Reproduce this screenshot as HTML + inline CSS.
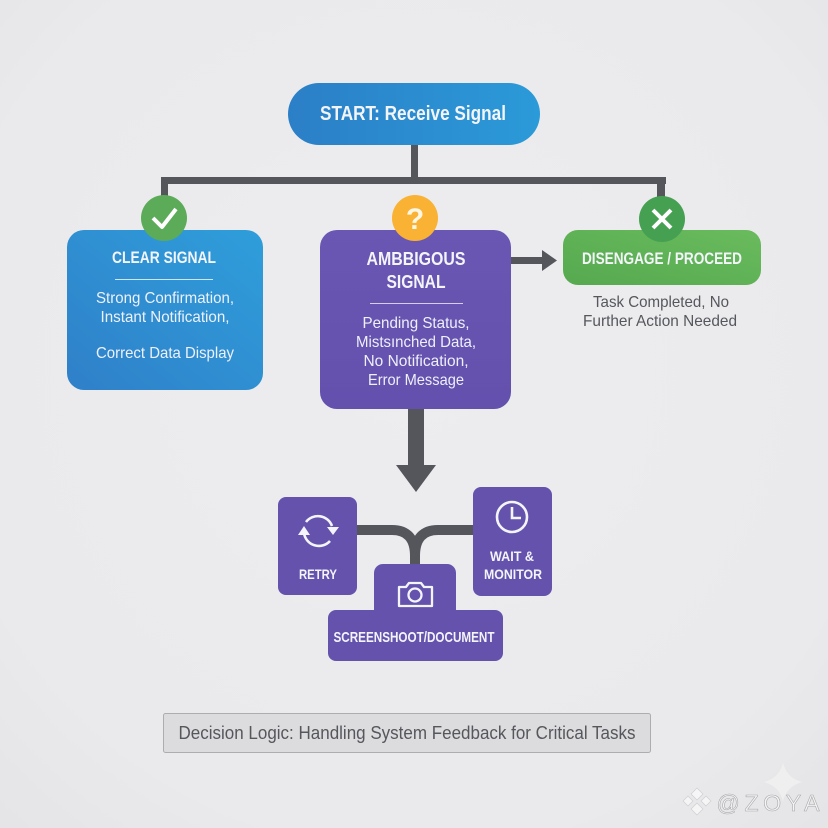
<!DOCTYPE html>
<html><head><meta charset="utf-8"><style>
html,body{margin:0;padding:0;background:#e9e9eb}
svg{display:block}
text{font-family:"Liberation Sans",sans-serif;text-anchor:middle}
.t{fill:#f4f4fb;font-weight:bold}
.b{fill:#eef0fa}
.d{fill:#55575c}
</style></head><body>
<svg width="828" height="828" viewBox="0 0 828 828" xmlns="http://www.w3.org/2000/svg">
<defs>
<radialGradient id="bg" cx="50%" cy="45%" r="80%"><stop offset="0" stop-color="#ededef"/><stop offset="0.7" stop-color="#eaeaec"/><stop offset="1" stop-color="#e3e3e5"/></radialGradient>
<linearGradient id="blue" x1="0" y1="1" x2="1" y2="0"><stop offset="0" stop-color="#2f80c8"/><stop offset="1" stop-color="#2f9edb"/></linearGradient>
<linearGradient id="pill" x1="0" y1="0" x2="1" y2="0"><stop offset="0" stop-color="#2b7fc7"/><stop offset="1" stop-color="#2b9ad8"/></linearGradient>
<linearGradient id="pur" x1="0" y1="0" x2="0" y2="1"><stop offset="0" stop-color="#6957b3"/><stop offset="1" stop-color="#6450ad"/></linearGradient>
<linearGradient id="grn" x1="0" y1="1" x2="1" y2="0"><stop offset="0" stop-color="#57a950"/><stop offset="1" stop-color="#69bb5d"/></linearGradient>
</defs>
<rect width="828" height="828" fill="url(#bg)"/>

<!-- top connectors -->
<g fill="#54565b">
<rect x="411" y="145" width="7" height="36"/>
<rect x="161" y="177" width="505" height="7"/>
<rect x="161" y="177" width="7" height="24"/>
<rect x="657" y="177" width="8" height="24"/>
<rect x="511" y="257" width="33" height="7"/>
<polygon points="542,250 557,260.500 542,271"/>
<rect x="408" y="409" width="16" height="57"/>
<polygon points="396,465 436,465 416,492"/>
</g>

<!-- start -->
<rect x="288" y="83" width="252" height="62" rx="31" fill="url(#pill)"/>
<text x="413" y="120" font-size="20" class="t" textLength="186" lengthAdjust="spacingAndGlyphs">START: Receive Signal</text>

<!-- clear -->
<rect x="67" y="230" width="196" height="160" rx="17" fill="url(#blue)"/>
<text x="164" y="263" font-size="17" class="t" textLength="104" lengthAdjust="spacingAndGlyphs">CLEAR SIGNAL</text>
<rect x="115" y="279" width="98" height="1" fill="#cfe6f6"/>
<g class="b" font-size="16">
<text x="165" y="303" textLength="138" lengthAdjust="spacingAndGlyphs">Strong Confirmation,</text>
<text x="165" y="322" textLength="129" lengthAdjust="spacingAndGlyphs">Instant Notification,</text>
<text x="165" y="358" textLength="138" lengthAdjust="spacingAndGlyphs">Correct Data Display</text>
</g>

<!-- ambiguous -->
<rect x="320" y="230" width="191" height="179" rx="17" fill="url(#pur)"/>
<text x="416" y="265" font-size="18" class="t" textLength="99" lengthAdjust="spacingAndGlyphs">AMBBIGOUS</text>
<text x="416" y="288" font-size="18" class="t" textLength="59" lengthAdjust="spacingAndGlyphs">SIGNAL</text>
<rect x="370" y="303" width="93" height="1" fill="#d5cfee"/>
<g class="b" font-size="16">
<text x="416" y="328" textLength="107" lengthAdjust="spacingAndGlyphs">Pending Status,</text>
<text x="416" y="347" textLength="120" lengthAdjust="spacingAndGlyphs">Mistsınched Data,</text>
<text x="416" y="366" textLength="105" lengthAdjust="spacingAndGlyphs">No Notification,</text>
<text x="416" y="385" textLength="96" lengthAdjust="spacingAndGlyphs">Error Message</text>
</g>

<!-- disengage -->
<rect x="563" y="230" width="198" height="55" rx="15" fill="url(#grn)"/>
<text x="662" y="264" font-size="17" class="t" textLength="160" lengthAdjust="spacingAndGlyphs">DISENGAGE / PROCEED</text>
<g class="d" font-size="16">
<text x="661" y="307" textLength="136" lengthAdjust="spacingAndGlyphs">Task Completed, No</text>
<text x="660" y="326" textLength="154" lengthAdjust="spacingAndGlyphs">Further Action Needed</text>
</g>

<!-- badges -->
<circle cx="164" cy="218" r="23" fill="#5cab58"/>
<path d="M153 218 L162 227 L176 209" fill="none" stroke="#fff" stroke-width="4" stroke-linejoin="round"/>
<circle cx="415" cy="218" r="23" fill="#f9b233"/>
<text x="415" y="229" font-size="30" font-weight="bold" fill="#fdf6e3">?</text>
<circle cx="662" cy="219" r="23" fill="#46a052"/>
<path d="M653 210 L671 228 M671 210 L653 228" fill="none" stroke="#fff" stroke-width="4"/>

<!-- action connectors -->
<path d="M357 530 H392 Q415 530 415 556 V566 M473 530 H438 Q415 530 415 556" fill="none" stroke="#54565b" stroke-width="10"/>

<!-- retry -->
<rect x="278" y="497" width="79" height="98" rx="8" fill="#6452ad"/>
<g fill="none" stroke="#f4f4fb" stroke-width="2.600">
<path d="M306 522 A15 15 0 0 1 332 526"/>
<path d="M304 533 A15 15 0 0 0 330 541"/>
</g>
<polygon points="327,527 339,527 333,535" fill="#f4f4fb"/>
<polygon points="298,535 310,535 304,526" fill="#f4f4fb"/>
<text x="318" y="579" font-size="14" class="t" textLength="38" lengthAdjust="spacingAndGlyphs">RETRY</text>

<!-- wait -->
<rect x="473" y="487" width="79" height="109" rx="8" fill="#6452ad"/>
<circle cx="512" cy="517" r="15" fill="none" stroke="#f4f4fb" stroke-width="2.600"/>
<path d="M512 507 V518 H521" fill="none" stroke="#f4f4fb" stroke-width="2.600"/>
<text x="512" y="561" font-size="14" class="t" textLength="44" lengthAdjust="spacingAndGlyphs">WAIT &amp;</text>
<text x="513" y="579" font-size="14" class="t" textLength="58" lengthAdjust="spacingAndGlyphs">MONITOR</text>

<!-- screenshot -->
<rect x="374" y="564" width="82" height="60" rx="9" fill="#6452ad"/>
<rect x="328" y="610" width="175" height="51" rx="8" fill="#6452ad"/>
<path d="M399 587 H406 L409 583 H421 L424 587 H432 V606 H399 Z" fill="none" stroke="#f4f4fb" stroke-width="2.300" stroke-linejoin="round"/>
<circle cx="415" cy="595" r="6.500" fill="none" stroke="#f4f4fb" stroke-width="2.300"/>
<text x="414" y="642" font-size="15" class="t" textLength="161" lengthAdjust="spacingAndGlyphs">SCREENSHOOT/DOCUMENT</text>

<!-- caption -->
<rect x="163.500" y="713.500" width="487" height="39" rx="2" fill="#dcdcde" stroke="#adadaf"/>
<text x="407" y="739" font-size="18" fill="#55575c" textLength="457" lengthAdjust="spacingAndGlyphs">Decision Logic: Handling System Feedback for Critical Tasks</text>

<!-- watermark -->
<path d="M783 763 Q787 778 802 782 Q787 786 783 801 Q779 786 764 782 Q779 778 783 763 Z" fill="#efeff0"/>
<g fill="#f5f5f6" stroke="#cfcfd1" stroke-width="0.700">
<polygon points="697,788 703,794 697,800 691,794"/>
<polygon points="697,803 703,809 697,815 691,809"/>
<polygon points="688,796 693,801 688,806 683,801"/>
<polygon points="706,796 711,801 706,806 701,801"/>
</g>
<text x="768" y="811" font-size="23" fill="#f4f4f5" stroke="#a9a9ab" stroke-width="0.600" textLength="103" lengthAdjust="spacing">@ZOYA</text>
</svg>
</body></html>
